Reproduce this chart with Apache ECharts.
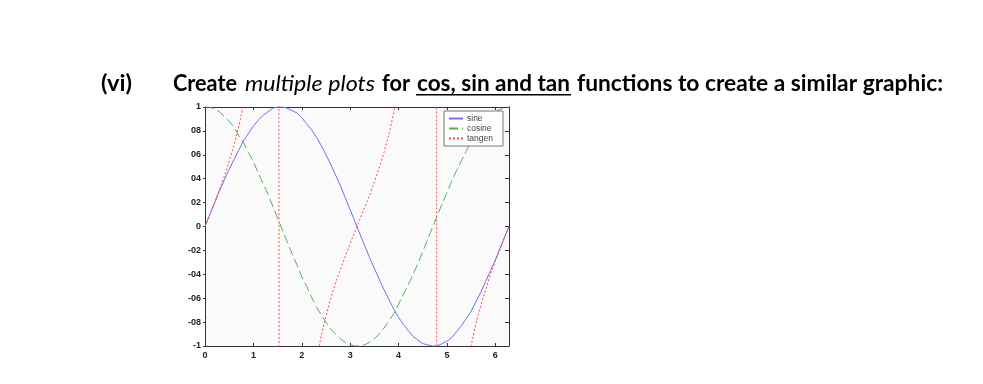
<!DOCTYPE html>
<html>
<head>
<meta charset="utf-8">
<style>
html,body{margin:0;padding:0;background:#fff;}
#chart{width:983px;height:384px;}
</style>
<script src="https://cdn.jsdelivr.net/npm/echarts@6/dist/echarts.min.js"></script>
</head>
<body>
<div id="chart"></div>
<script>
// ---- data ----
const xValues = [0,0.1,0.2,0.3,0.4,0.5,0.6,0.7,0.8,0.9,1.0,1.1,1.2,1.3,1.4,1.5,1.6,1.7,1.8,1.9,2.0,2.1,2.2,2.3,2.4,2.5,2.6,2.7,2.8,2.9,3.0,3.1,3.2,3.3,3.4,3.5,3.6,3.7,3.8,3.9,4.0,4.1,4.2,4.3,4.4,4.5,4.6,4.7,4.8,4.9,5.0,5.1,5.2,5.3,5.4,5.5,5.6,5.7,5.8,5.9,6.0,6.1,6.2,6.2832];
const sineValues = [0,0.10,0.20,0.30,0.39,0.48,0.56,0.64,0.72,0.78,0.84,0.89,0.93,0.96,0.99,1.00,1.00,0.99,0.97,0.95,0.91,0.86,0.81,0.75,0.68,0.60,0.52,0.43,0.34,0.24,0.14,0.04,-0.06,-0.16,-0.26,-0.35,-0.44,-0.53,-0.61,-0.69,-0.76,-0.82,-0.87,-0.92,-0.95,-0.98,-0.99,-1.00,-1.00,-0.98,-0.96,-0.93,-0.88,-0.83,-0.77,-0.71,-0.63,-0.55,-0.46,-0.37,-0.28,-0.18,-0.08,0];
const cosineValues = [1,1.00,0.98,0.96,0.92,0.88,0.83,0.76,0.70,0.62,0.54,0.45,0.36,0.27,0.17,0.07,-0.03,-0.13,-0.23,-0.32,-0.42,-0.50,-0.59,-0.67,-0.74,-0.80,-0.86,-0.90,-0.94,-0.97,-0.99,-1.00,-1.00,-0.99,-0.97,-0.94,-0.90,-0.85,-0.79,-0.73,-0.65,-0.57,-0.49,-0.40,-0.31,-0.21,-0.11,-0.01,0.09,0.19,0.28,0.38,0.47,0.55,0.63,0.71,0.78,0.83,0.89,0.93,0.96,0.98,1.00,1];
const tangenValues = [0,0.10,0.20,0.31,0.42,0.55,0.68,0.84,1.03,1.26,1.56,1.97,2.57,3.60,5.80,14.10,-34.23,-7.70,-4.29,-2.93,-2.19,-1.71,-1.37,-1.12,-0.92,-0.75,-0.60,-0.47,-0.36,-0.25,-0.14,-0.04,0.06,0.16,0.26,0.37,0.49,0.62,0.77,0.95,1.16,1.42,1.78,2.29,3.10,4.64,8.86,80.71,-11.38,-5.27,-3.38,-2.45,-1.89,-1.50,-1.22,-1.00,-0.81,-0.66,-0.53,-0.40,-0.29,-0.19,-0.08,0];
const seriesNames = ['sine','cosine','tangen'];
const xTickLabels = ['0','1','2','3','4','5','6'];
const yTickLabels = ['-1','-08','-06','-04','-02','0','02','04','06','08','1'];
const headingParts = ['(vi)','Create','multiple plots','for','cos, sin and tan','functions to create a similar graphic:'];

function pairs(ys){ return xValues.map((x,i)=>[x, ys[i]]); }

// ---- heading layout ----
const measureCtx = document.createElement('canvas').getContext('2d');
const headingLayout = [
  {x:101, w:31, font:'bold 22px Lato'},
  {x:173, w:64, font:'bold 22px Lato'},
  {x:245, w:130, font:'italic 22px Lato'},
  {x:382, w:28, font:'bold 22px Lato'},
  {x:417, w:153, font:'bold 22px Lato'},
  {x:577, w:366, font:'bold 22px Lato'}
];
const graphics = headingParts.map((t,i)=>{
  const L = headingLayout[i];
  measureCtx.font = L.font;
  const mw = measureCtx.measureText(t).width || L.w;
  return {
    type:'text', x:L.x, y:73, scaleX: L.w/mw, silent:true,
    style:{text:t, x:0, y:0, font:L.font, fill:'#000', align:'left', verticalAlign:'top'}
  };
});
graphics.push({type:'rect', shape:{x:416, y:94, width:155, height:1.6}, style:{fill:'#000'}, silent:true});

const tickFont = {fontFamily:'Liberation Sans', fontSize:9, fontWeight:'bold', color:'#222'};
const axisLine = {show:true, onZero:false, lineStyle:{color:'#333', width:1}};
const xMax = xValues[xValues.length-1];

const option = {
  backgroundColor:'#fff',
  animation:false,
  graphic: graphics,
  grid:{left:205, right:474, top:107, bottom:38, show:true, backgroundColor:'#fafafa', borderWidth:0},
  legend:{
    data: seriesNames, orient:'vertical', left:444, top:111,
    padding:[3,10,3,4], itemGap:1, itemWidth:14, itemHeight:10,
    itemStyle:{opacity:0, borderWidth:0},
    backgroundColor:'#fff', borderColor:'#777', borderWidth:1, borderRadius:0,
    textStyle:{fontFamily:'Liberation Sans', fontSize:8.5, color:'#444', padding:[0,0,0,-1]}
  },
  xAxis:[
    {type:'value', min:0, max:xMax, interval:1, position:'bottom',
     axisLine:axisLine, axisTick:{inside:true, length:3, lineStyle:{color:'#333'}},
     splitLine:{show:false}, axisLabel:Object.assign({margin:5, showMaxLabel:false,
       formatter:(v)=>{const i=Math.round(v); return (Math.abs(v-i)<1e-6 && xTickLabels[i]!==undefined)? xTickLabels[i] : '';}}, tickFont)},
    {type:'value', min:0, max:xMax, interval:1, position:'top',
     axisLine:axisLine, axisTick:{inside:true, length:3, lineStyle:{color:'#333'}},
     splitLine:{show:false}, axisLabel:{show:false}}
  ],
  yAxis:[
    {type:'value', min:-1, max:1, interval:0.2, position:'left',
     axisLine:axisLine, axisTick:{inside:false, length:2, lineStyle:{color:'#333'}},
     splitLine:{show:false}, axisLabel:Object.assign({margin:4, showMaxLabel:true, showMinLabel:true,
       formatter:(v)=>{const i=Math.round((v+1)/0.2); return yTickLabels[i]||'';}}, tickFont)},
    {type:'value', min:-1, max:1, interval:0.2, position:'right',
     axisLine:axisLine, axisTick:{inside:true, length:4, lineStyle:{color:'#333'}},
     splitLine:{show:false}, axisLabel:{show:false}}
  ],
  series:[
    {name:seriesNames[0], type:'line', data:pairs(sineValues), showSymbol:false, symbol:'none', clip:true,
     color:'#6f6ff2', lineStyle:{color:'#6f6ff2', width:1, type:'solid'}},
    {name:seriesNames[1], type:'line', data:pairs(cosineValues), showSymbol:false, symbol:'none', clip:true,
     color:'#55b055', lineStyle:{color:'#55b055', width:1, type:[9,4]}},
    {name:seriesNames[2], type:'line', data:pairs(tangenValues), showSymbol:false, symbol:'none', clip:true,
     color:'#ff4a4a', lineStyle:{color:'#ff4a4a', width:1, type:[2,2]}}
  ]
};

const chart = echarts.init(document.getElementById('chart'), null, {renderer:'canvas'});
chart.setOption(option);
</script>
</body>
</html>
